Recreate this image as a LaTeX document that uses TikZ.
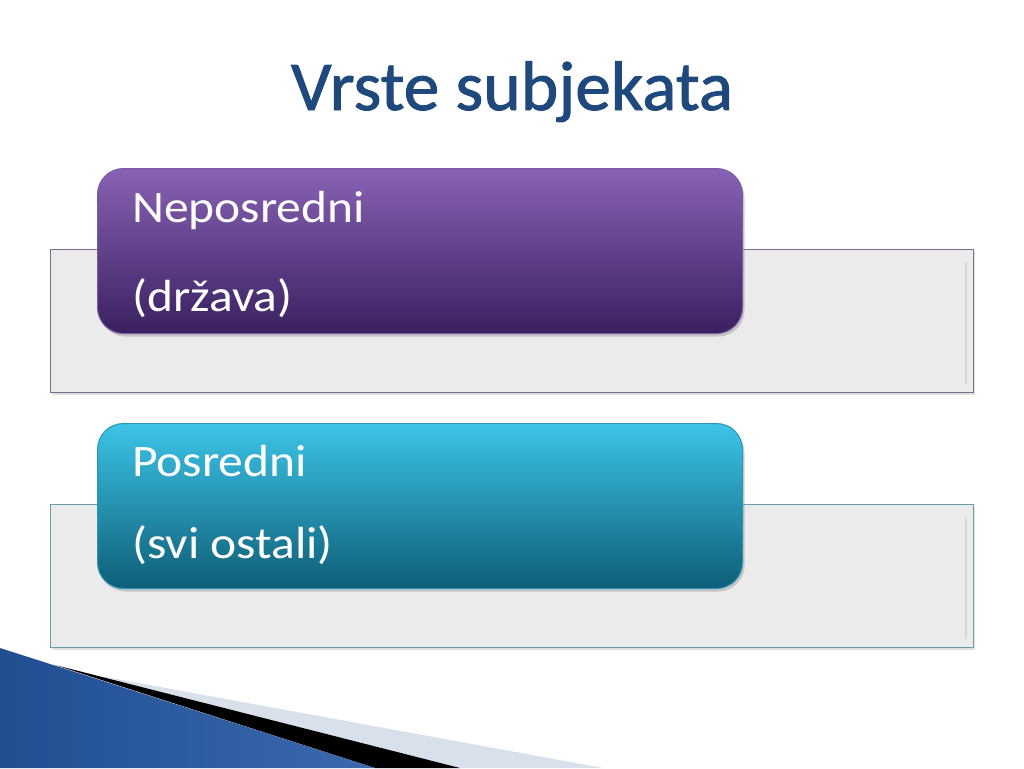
\documentclass[tikz,border=0pt]{standalone}
\usepackage{fontspec}
\setmainfont{Carlito}
\newfontfamily\bodyfont[FakeStretch=1.1]{Carlito}
\newfontfamily\titlefont[FakeStretch=1.02,FakeBold=1.3]{Carlito}
\usetikzlibrary{shadows}
\definecolor{titleblue}{RGB}{31,73,125}
\definecolor{grayfill}{RGB}{235,235,235}
\definecolor{grayline}{RGB}{214,214,214}
\definecolor{pborder}{RGB}{122,110,140}
\definecolor{tborder}{RGB}{106,160,168}
\definecolor{ptop}{RGB}{136,98,180}
\definecolor{pbot}{RGB}{58,32,96}
\definecolor{pedge}{RGB}{120,90,165}
\definecolor{ttop}{RGB}{60,196,232}
\definecolor{tbot}{RGB}{14,94,118}
\definecolor{tedge}{RGB}{40,150,185}
\definecolor{bluedark}{RGB}{32,78,145}
\definecolor{bluelight}{RGB}{100,145,212}
\definecolor{bluemid}{RGB}{60,105,175}
\definecolor{paleblue}{RGB}{216,224,236}
\tikzset{
  graybox/.style={draw=#1, line width=1.2pt, fill=grayfill, anchor=north west,
    inner sep=0pt, drop shadow={opacity=0.25, shadow xshift=1.5pt, shadow yshift=-2.5pt}},
  purplebox/.style={draw=pedge, line width=1pt, top color=ptop, bottom color=pbot,
    rounded corners=26pt, anchor=north west, inner sep=0pt,
    minimum width=645pt, minimum height=165pt,
    drop shadow={opacity=0.35, shadow xshift=2pt, shadow yshift=-3pt}},
  tealbox/.style={draw=tedge, line width=1pt, top color=ttop, bottom color=tbot,
    rounded corners=26pt, anchor=north west, inner sep=0pt,
    minimum width=645pt, minimum height=165pt,
    drop shadow={opacity=0.35, shadow xshift=2pt, shadow yshift=-3pt}},
  boxtext/.style={anchor=base west, inner sep=0pt, text=white, font=\bodyfont\fontsize{45}{54}\selectfont},
}
\begin{document}
\begin{tikzpicture}[x=1pt,y=-1pt]
\useasboundingbox (0,0) rectangle (1024,768);
\fill[white] (0,0) rectangle (1024,768);

% title
\node[anchor=base, inner sep=0pt, text=titleblue, font=\titlefont\fontsize{70}{84}\selectfont] (title) at (512,110) {Vrste subjekata};

% first group
\node[graybox=pborder, minimum width=923pt, minimum height=143pt] (g1) at (50,249) {};
\draw[grayline, line width=2pt] (966,262) -- (966,384);
\node[purplebox] (p1) at (97,168) {};
\node[boxtext] (t1a) at (132,222) {Neposredni};
\node[boxtext] (t1b) at (132,311) {(država)};

% second group
\node[graybox=tborder, minimum width=923pt, minimum height=143pt] (g2) at (50,504) {};
\draw[grayline, line width=2pt] (966,517) -- (966,639);
\node[tealbox] (p2) at (97,423) {};
\node[boxtext] (t2a) at (132,476) {Posredni};
\node[boxtext] (t2b) at (132,558) {(svi ostali)};

% bottom-left decoration
\fill[paleblue] (100,676) -- (603,768) -- (455,768) -- cycle;
\fill[black] (55,665) -- (460,768) -- (375,768) -- cycle;
\shade[left color=bluedark, middle color=bluelight, right color=bluemid]
  (0,648) -- (375,768) -- (0,768) -- cycle;
\end{tikzpicture}
\end{document}
